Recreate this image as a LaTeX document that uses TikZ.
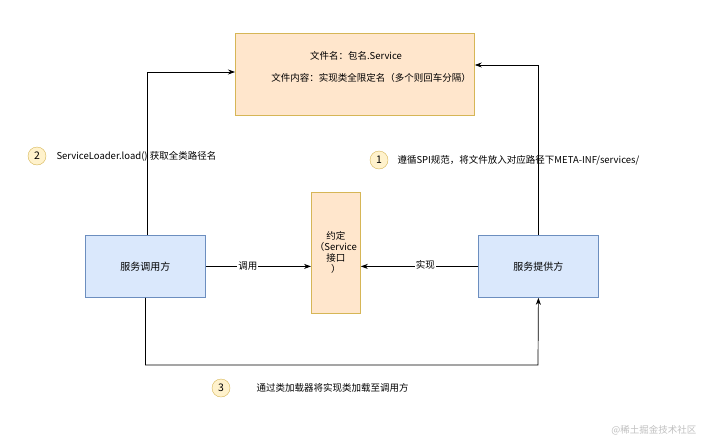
\documentclass[tikz,border=0pt]{standalone}
\usepackage{fontspec}
\setmainfont{Noto Sans CJK SC}
\usetikzlibrary{arrows.meta}
\definecolor{ofill}{HTML}{FFE6CC}\definecolor{oline}{HTML}{D6B656}
\definecolor{bfill}{HTML}{DAE8FC}\definecolor{bline}{HTML}{6C8EBF}
\definecolor{cfill}{HTML}{FFF2CC}
\begin{document}
\begin{tikzpicture}[x=1pt,y=-1pt,font=\fontsize{9.5}{11}\selectfont,
 obox/.style={draw=oline,fill=ofill,line width=0.8pt},
 bbox/.style={draw=bline,fill=bfill,line width=0.8pt,font=\fontsize{10}{12}\selectfont},
 num/.style={circle,draw=oline,fill=cfill,minimum size=18pt,inner sep=0pt,font=\fontsize{10.5}{11}\selectfont},
 arr/.style={-{Stealth[length=7pt,width=5pt]},line width=0.7pt}]
\useasboundingbox (0,0) rectangle (704,442);
\node[obox,minimum width=239pt,minimum height=82pt,anchor=north west] (top) at (235,33) {};
\node at (356,56) (t1) {文件名：包名.Service};
\node at (371,78) (t2) {文件内容：实现类全限定名（多个则回车分隔）};
\node[bbox,minimum width=120pt,minimum height=62pt,anchor=north west] (call) at (85,235) {服务调用方};
\node[bbox,minimum width=120pt,minimum height=62pt,anchor=north west] (prov) at (478,235) {服务提供方};
\node[obox,minimum width=49pt,minimum height=121pt,anchor=north west,align=center,inner sep=1pt] (mid) at (311,192) {约定\\（Service\\接口\\）};
\coordinate (a1) at (147,72); \coordinate (a2) at (538,65);
\coordinate (b2) at (538,365);
\draw[arr] ([xshift=2pt]call.north) |- (top.west |- a1);
\draw[arr] (prov.north) |- (top.east |- a2);
\draw[arr] (call.south) |- (b2) -- (prov.south);
\draw[arr] (call.east) -- node[pos=0.4,fill=white,inner sep=1pt]{调用} (mid.west |- call.east);
\draw[arr] (prov.west |- call.east) -- node[pos=0.45,fill=white,inner sep=1pt,yshift=2pt]{实现} (mid.east |- call.east);
\node[num] (n2) at (37,156) {2};
\node[anchor=west] (l2) at (53,156) {ServiceLoader.load() 获取全类路径名};
\node[num] (n1) at (379,160) {1};
\node[anchor=west] (l1) at (394,160) {遵循SPI规范，将文件放入对应路径下META-INF/services/};
\node[num] (n3) at (221,388) {3};
\node[anchor=west] (l3) at (253,388) {通过类加载器将实现类加载至调用方};
\node[anchor=east,text=gray!50] (wm) at (700,430) {@稀土掘金技术社区};
\end{tikzpicture}
\end{document}
